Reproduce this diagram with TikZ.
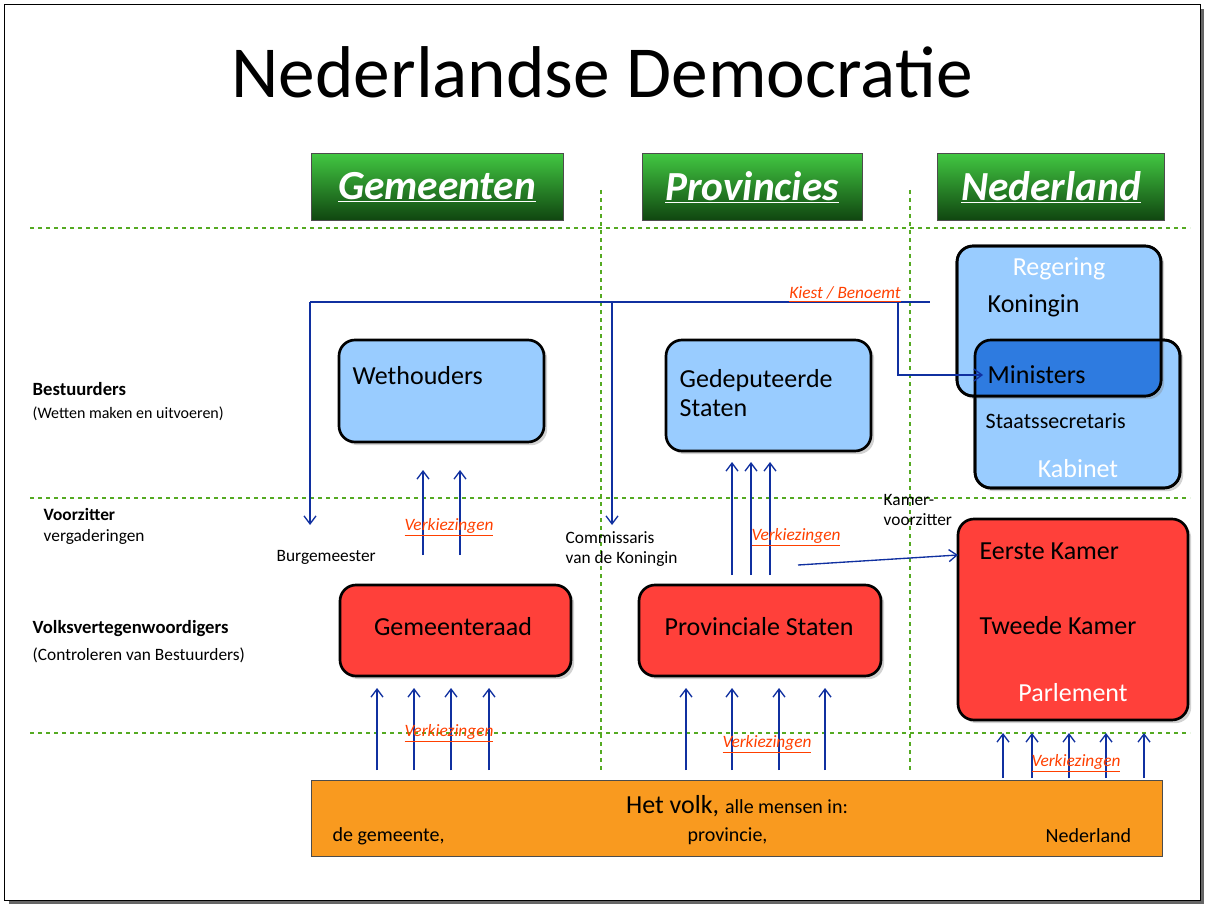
\documentclass[tikz,border=0pt]{standalone}
\usepackage{fontspec}
\setmainfont{Carlito}
\usetikzlibrary{arrows.meta,shadows}
\definecolor{lb}{HTML}{99CCFF}
\definecolor{db}{HTML}{2E7BE0}
\definecolor{rr}{HTML}{FF403A}
\definecolor{gg}{HTML}{1F8A1F}
\definecolor{or}{HTML}{F99A1F}
\definecolor{nb}{HTML}{1030A0}
\definecolor{lab}{HTML}{FF4000}
\definecolor{dg}{HTML}{55AA22}
\tikzset{
 px/.style={x=0.75pt,y=-0.75pt},
 bbox/.style={draw=black,line width=2pt,rounded corners=12pt,drop shadow={opacity=0.35}},
 hdr/.style={draw=black!70,top color=gg!60!green!80,bottom color=gg!50!black,inner sep=0pt,font=\fontsize{31}{31}\selectfont\bfseries\itshape,text=white},
 grid/.style={dg,dashed,line width=0.8pt},
 con/.style={nb,line width=1pt,-{Straight Barb[length=6pt,width=9pt]}},
 vk/.style={text=lab,font=\fontsize{13}{15}\selectfont\itshape},
 bt/.style={font=\fontsize{19.5}{22}\selectfont,anchor=west},
 sm/.style={font=\fontsize{13}{15}\selectfont,anchor=west,align=left},
}
\newcommand{\ul}[1]{\underline{#1}}
\begin{document}
\begin{tikzpicture}[px]
\useasboundingbox (0,0) rectangle (1206,909);
\fill[black!60] (9,9) rectangle (1204,904);
\draw[fill=white,line width=0.6pt] (4,4) rectangle (1200,900);
\node[font=\fontsize{55}{58}\selectfont] (title) at (602,72) {Nederlandse Democratie};
% headers
\node[hdr,minimum width=252*0.75pt,minimum height=67*0.75pt] (h1) at (437,187) {\ul{Gemeenten}};
\node[hdr,minimum width=220*0.75pt,minimum height=67*0.75pt] (h2) at (752,187) {\ul{Provincies}};
\node[hdr,minimum width=227*0.75pt,minimum height=67*0.75pt] (h3) at (1051,187) {\ul{Nederland}};
% grid
\draw[grid] (30,228) -- (1190,228);
\draw[grid] (30,498) -- (1190,498);
\draw[grid] (30,733) -- (1190,733);
\draw[grid] (601,190) -- (601,770);
\draw[grid] (910,190) -- (910,770);
% boxes
\draw[bbox,fill=lb] (339,340) rectangle (544,442);
\node[bt] (weth) at (348,376) {Wethouders};
\draw[bbox,fill=lb] (666,340) rectangle (871,451);
\node[bt,align=left] (gede) at (675,393) {Gedeputeerde\\Staten};
\draw[bbox,fill=rr] (340,585) rectangle (571,676);
\node[font=\fontsize{19.5}{22}\selectfont] (graad) at (453,627) {Gemeenteraad};
\draw[bbox,fill=rr] (639,585) rectangle (881,676);
\node[font=\fontsize{19.5}{22}\selectfont] (pstat) at (759,627) {Provinciale Staten};
\draw[bbox,fill=rr] (958,519) rectangle (1188,720);
\node[bt] (ek) at (975,551) {Eerste Kamer};
\node[bt] (tk) at (975,626) {Tweede Kamer};
\node[font=\fontsize{19.5}{22}\selectfont,text=white] (parl) at (1073,693) {Parlement};
% kabinet / regering
\draw[bbox,fill=lb] (975,340) rectangle (1180,488);
\draw[bbox,fill=lb] (957,246) rectangle (1161,396);
\begin{scope}
\clip[rounded corners=12pt] (957,246) rectangle (1161,396);
\fill[db,rounded corners=12pt] (975,340) rectangle (1180,488);
\end{scope}
\draw[line width=2pt,rounded corners=12pt] (957,246) rectangle (1161,396);
\draw[line width=2pt,rounded corners=12pt] (975,340) rectangle (1180,488);
\node[font=\fontsize{19.5}{22}\selectfont,text=white] (reg) at (1059,269) {Regering};
\node[bt] (kon) at (983,306) {Koningin};
\node[bt] (min) at (983,375) {Ministers};
\node[font=\fontsize{16.5}{18}\selectfont,anchor=west] (ss) at (981,421) {Staatssecretaris};
\node[font=\fontsize{19.5}{22}\selectfont,text=white] (kab) at (1078,469) {Kabinet};
% volk
\node[draw=black!70,fill=or,minimum width=851*0.75pt,minimum height=76*0.75pt,anchor=north west] (volk) at (311,780) {};
\node (volkt) at (737,806) {\fontsize{19.5}{22}\selectfont Het volk, \fontsize{15}{17}\selectfont alle mensen in:};
\node[sm,font=\fontsize{15}{17}\selectfont] (v1) at (328,836) {de gemeente,};
\node[sm,font=\fontsize{15}{17}\selectfont] (v2) at (683,836) {provincie,};
\node[sm,font=\fontsize{15}{17}\selectfont] (v3) at (1041,836) {Nederland};
% left labels
\node[sm,font=\fontsize{14}{15}\selectfont\bfseries] (l1) at (28,389) {Bestuurders};
\node[sm,font=\fontsize{12}{14}\selectfont] (l2) at (28,414) {(Wetten maken en uitvoeren)};
\node[sm,font=\fontsize{13}{15}\selectfont\bfseries] (l3) at (39,514) {Voorzitter};
\node[sm] (l4) at (39,537) {vergaderingen};
\node[sm,font=\fontsize{14}{15}\selectfont\bfseries] (l5) at (28,629) {Volksvertegenwoordigers};
\node[sm,font=\fontsize{13}{15}\selectfont] (l6) at (28,655) {(Controleren van Bestuurders)};
\node[sm] (burg) at (272,557) {Burgemeester};
\node[sm,align=left] (comm) at (561,549) {Commissaris\\van de Koningin};
\node[sm,align=left] (kamv) at (879,510) {Kamer-\\voorzitter};
% Kiest/Benoemt
\coordinate (kL) at (310,302); \coordinate (kR) at (930,302);
\draw[nb,line width=1pt] (kL) -- (kR);
\node[vk,anchor=base] (kb) at (845,299) {\ul{Kiest / Benoemt}};
\coordinate (bu) at (310,525); \coordinate (co) at (612,525);
\draw[con] (kL) -- (bu);
\draw[con] (612,302) -- (co);
\draw[con] (898,302) |- (min.west);
% verkiezingen arrows
\foreach \x in {423,460} \draw[con] (\x,555) -- (\x,470);
\foreach \x in {732,751,770} \draw[con] (\x,575) -- (\x,462);
\foreach \x in {377,414,451,489} \draw[con] (\x,770) -- (\x,688);
\foreach \x in {686,732,779,825} \draw[con] (\x,770) -- (\x,688);
\foreach \x in {1003,1032,1069,1106,1144} \draw[con] (\x,778) -- (\x,733);
\draw[con] (798,565) -- (958,555);
\node[vk] (vk1) at (449,527) {\ul{Verkiezingen}};
\node[vk] (vk2) at (796,537) {\ul{Verkiezingen}};
\node[vk] (vk3) at (449,733) {\ul{Verkiezingen}};
\node[vk] (vk4) at (767,744) {\ul{Verkiezingen}};
\node[vk] (vk5) at (1076,763) {\ul{Verkiezingen}};
\end{tikzpicture}
\end{document}
